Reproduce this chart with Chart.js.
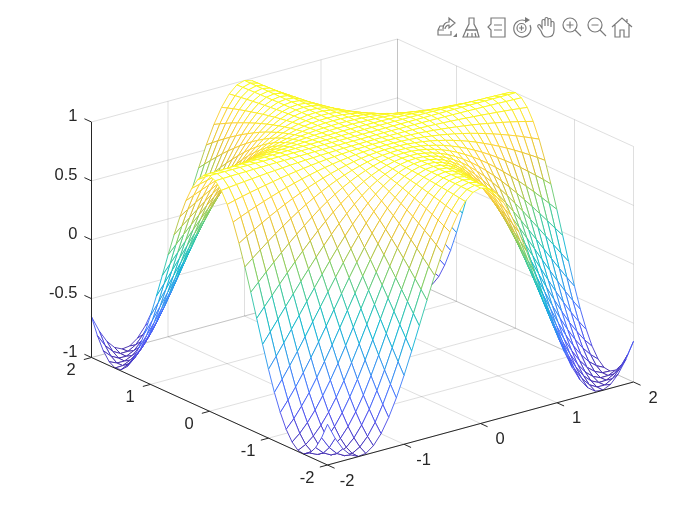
<!DOCTYPE html>
<html>
<head>
<meta charset="utf-8">
<style>
  html, body { margin: 0; padding: 0; background: #fff; }
  #wrap { position: relative; width: 700px; height: 525px; overflow: hidden; }
  #tools { position: absolute; left: 0; top: 0; pointer-events: none; filter: blur(0.35px); }
  #tools * { fill: none; stroke: #7a7a7a; stroke-width: 1.2; }
  #tools .solid { fill: #7a7a7a; stroke: none; }
</style>
<script src="https://cdn.jsdelivr.net/npm/chart.js@4/dist/chart.umd.js"></script>
</head>
<body>
<div id="wrap">
  <canvas id="chart" width="700" height="525"></canvas>
  <svg id="tools" width="700" height="525">
    <g transform="translate(437,17)">
      <path d="M1 13l2-4h4M1 13v5h13v-4M1 13h6"/>
      <path d="M6 12C6 7 9 5 12 5V1l6 5-6 5V8C10 8 8 10 8 12"/>
      <path class="solid" d="M16 20h4v-4z"/>
    </g>
    <g transform="translate(463,17)">
      <path d="M6 1h5v6l3 6H3l3-6z"/>
      <path d="M3 13h11l2 7H0z"/>
      <path d="M5 16l-1 4M9 16v4M12 16l1 4"/>
    </g>
    <g transform="translate(487,17)">
      <path d="M4 1h14v19H4v-7l-3-3 3-3z"/>
      <path d="M7 8h8M7 13h8"/>
    </g>
    <g transform="translate(512,17)">
      <path d="M13 3.500A8.500 8.500 0 1 0 18 8"/>
      <circle cx="9.500" cy="11" r="4.500"/>
      <path d="M9.500 8.500v5M7 11h5"/>
      <path class="solid" d="M13 0l5 3-5 3z"/>
    </g>
    <g transform="translate(537,17)">
      <path d="M4 14L1 10c-1-2 1-3 2-2l2 3V4c0-2 3-2 3 0v5V2c0-2 3-2 3 0v7V3c0-2 3-2 3 0v7V6c0-2 3-2 3 0v7c0 4-2 7-6 7H9c-2 0-4-3-5-6z"/>
    </g>
    <g transform="translate(562,17)">
      <circle cx="8" cy="8" r="7"/>
      <path d="M13 13l6 6M8 4.500v7M4.500 8h7"/>
    </g>
    <g transform="translate(587,17)">
      <circle cx="8" cy="8" r="7"/>
      <path d="M13 13l6 6M4.500 8h7"/>
    </g>
    <g transform="translate(612,17)">
      <path d="M0 10L10 1l10 9M3 8v12h5v-7h4v7h5V8M15 2v4"/>
    </g>
  </svg>
</div>
<script>
// axis ticks
const xTicks = [-2, -1, 0, 1, 2];
const yTicks = [-2, -1, 0, 1, 2];
const zTicks = [-1, -0.5, 0, 0.5, 1];

// mesh coordinates, 41 lines each way
const meshX = [-2, -1.9, -1.8, -1.7, -1.6, -1.5, -1.4, -1.3, -1.2, -1.1, -1, -0.9, -0.8, -0.7, -0.6, -0.5, -0.4, -0.3, -0.2, -0.1, 0, 0.1, 0.2, 0.3, 0.4, 0.5, 0.6, 0.7, 0.8, 0.9, 1, 1.1, 1.2, 1.3, 1.4, 1.5, 1.6, 1.7, 1.8, 1.9, 2];
const meshY = [-2, -1.9, -1.8, -1.7, -1.6, -1.5, -1.4, -1.3, -1.2, -1.1, -1, -0.9, -0.8, -0.7, -0.6, -0.5, -0.4, -0.3, -0.2, -0.1, 0, 0.1, 0.2, 0.3, 0.4, 0.5, 0.6, 0.7, 0.8, 0.9, 1, 1.1, 1.2, 1.3, 1.4, 1.5, 1.6, 1.7, 1.8, 1.9, 2];

// heights for |x|, |y| = 0, 0.1 ... 2 (surface looks the same in all four quadrants)
const zQuadrant = [
  [1, 1, 1, 1, 1, 1, 1, 1, 1, 1, 1, 1, 1, 1, 1, 1, 1, 1, 1, 1, 1],
  [1, 1, 1, 1, .999, .999, .998, .998, .997, .996, .995, .994, .993, .992, .99, .989, .987, .986, .984, .982, .98],
  [1, 1, .999, .998, .997, .995, .993, .99, .987, .984, .98, .976, .971, .966, .961, .955, .949, .943, .936, .929, .921],
  [1, 1, .998, .996, .993, .989, .984, .978, .971, .964, .955, .946, .936, .925, .913, .9, .887, .873, .858, .842, .825],
  [1, .999, .997, .993, .987, .98, .971, .961, .949, .936, .921, .905, .887, .868, .847, .825, .802, .778, .752, .725, .697],
  [1, .999, .995, .989, .98, .969, .955, .939, .921, .9, .878, .853, .825, .796, .765, .732, .697, .66, .622, .582, .54],
  [1, .998, .993, .984, .971, .955, .936, .913, .887, .858, .825, .79, .752, .711, .667, .622, .574, .523, .471, .418, .362],
  [1, .998, .99, .978, .961, .939, .913, .882, .847, .808, .765, .718, .667, .613, .557, .498, .436, .372, .306, .238, .17],
  [1, .997, .987, .971, .949, .921, .887, .847, .802, .752, .697, .637, .574, .506, .436, .362, .287, .209, .13, .051, -.029],
  [1, .996, .984, .964, .936, .9, .858, .808, .752, .69, .622, .549, .471, .39, .306, .219, .13, .041, -.049, -.139, -.227],
  [1, .995, .98, .955, .921, .878, .825, .765, .697, .622, .54, .454, .362, .267, .17, .071, -.029, -.129, -.227, -.323, -.416],
  [1, .994, .976, .946, .905, .853, .79, .718, .637, .549, .454, .353, .248, .14, .031, -.079, -.188, -.295, -.398, -.496, -.589],
  [1, .993, .971, .936, .887, .825, .752, .667, .574, .471, .362, .248, .13, .011, -.109, -.227, -.342, -.452, -.556, -.65, -.737],
  [1, .992, .966, .925, .868, .796, .711, .613, .506, .39, .267, .14, .011, -.119, -.247, -.37, -.488, -.599, -.696, -.784, -.857],
  [1, .99, .961, .913, .847, .765, .667, .557, .436, .306, .17, .031, -.109, -.247, -.38, -.505, -.62, -.724, -.813, -.886, -.942],
  [1, .989, .955, .9, .825, .732, .622, .498, .362, .219, .071, -.079, -.227, -.37, -.505, -.628, -.737, -.83, -.904, -.958, -.99],
  [1, .987, .949, .887, .802, .697, .574, .436, .287, .13, -.029, -.188, -.342, -.488, -.62, -.737, -.836, -.913, -.966, -.995, -.998],
  [1, .986, .943, .873, .778, .66, .523, .372, .209, .041, -.129, -.295, -.452, -.599, -.724, -.83, -.913, -.968, -.997, -.996, -.967],
  [1, .984, .936, .858, .752, .622, .471, .306, .13, -.049, -.227, -.398, -.556, -.696, -.813, -.904, -.966, -.997, -.995, -.96, -.897],
  [1, .982, .929, .842, .725, .582, .418, .238, .051, -.139, -.323, -.496, -.65, -.784, -.886, -.958, -.995, -.996, -.96, -.892, -.791],
  [1, .98, .921, .825, .697, .54, .362, .17, -.029, -.227, -.416, -.589, -.737, -.857, -.942, -.99, -.998, -.967, -.897, -.791, -.654]
];

// parula, low to high
const colorStops = ['#3e26a8', '#4747eb', '#3e6fff', '#2796eb', '#08b5d0', '#31c69f', '#81cc59', '#dcbd29', '#fccf30', '#f9fb15'];

const AXIS_COLOR = '#262626';
const GRID_COLOR = 'rgba(38,38,38,0.15)';
const MESH_WIDTH = 0.9;

// fixed view, read from the corners of the box
function project(x, y, z) {
  return {
    x: 362.5 + 76.5 * x - 59 * y,
    y: 252 - 20.75 * x - 26.875 * y - 117.75 * z
  };
}

function zAt(i, j) {
  return zQuadrant[Math.abs(i - 20)][Math.abs(j - 20)];
}

function hexToRgb(h) {
  return [1, 3, 5].map(k => parseInt(h.slice(k, k + 2), 16));
}

function meshColor(z) {
  const t = Math.min(1, Math.max(0, (z + 1) / 2)) * (colorStops.length - 1);
  const k = Math.min(colorStops.length - 2, Math.floor(t));
  const a = hexToRgb(colorStops[k]);
  const b = hexToRgb(colorStops[k + 1]);
  const c = a.map((v, n) => Math.round(v + (b[n] - v) * (t - k)));
  return 'rgb(' + c.join(',') + ')';
}

function lineSet(points, color, width) {
  return {
    data: points.map(p => project(p[0], p[1], p[2])),
    showLine: true,
    pointRadius: 0,
    borderColor: color,
    borderWidth: width,
    fill: false,
    tension: 0
  };
}

function quadSet(i, j) {
  const corners = [[i, j], [i + 1, j], [i + 1, j + 1], [i, j + 1], [i, j]];
  const zs = corners.map(c => zAt(c[0], c[1]));
  return {
    data: corners.map((c, n) => project(meshX[c[0]], meshY[c[1]], zs[n])),
    showLine: true,
    pointRadius: 0,
    borderWidth: MESH_WIDTH,
    fill: false,
    maskFill: '#ffffff',
    tension: 0,
    segment: {
      borderColor: ctx => meshColor((zs[ctx.p0DataIndex] + zs[ctx.p1DataIndex]) / 2)
    }
  };
}

// chart.js paints the last dataset first, so front quads go first
const datasets = [];

// axis lines and tick marks on top of everything
datasets.push(lineSet([[-2, 2, -1], [-2, 2, 1]], AXIS_COLOR, 1));
datasets.push(lineSet([[-2, -2, -1], [2, -2, -1]], AXIS_COLOR, 1));
datasets.push(lineSet([[-2, -2, -1], [-2, 2, -1]], AXIS_COLOR, 1));
xTicks.forEach(t => datasets.push(lineSet([[t, -2, -1], [t, -2.12, -1]], AXIS_COLOR, 1)));
yTicks.forEach(t => datasets.push(lineSet([[-2, t, -1], [-2.1, t, -1]], AXIS_COLOR, 1)));
zTicks.forEach(t => datasets.push(lineSet([[-2, 2, t], [-2, 2.12, t]], AXIS_COLOR, 1)));

for (let i = 0; i < meshX.length - 1; i++) {
  for (let j = 0; j < meshY.length - 1; j++) {
    datasets.push(quadSet(i, j));
  }
}

// grid on the floor and the two back walls
xTicks.forEach(t => {
  datasets.push(lineSet([[t, -2, -1], [t, 2, -1]], GRID_COLOR, 1));
  datasets.push(lineSet([[t, 2, -1], [t, 2, 1]], GRID_COLOR, 1));
});
yTicks.forEach(t => {
  datasets.push(lineSet([[-2, t, -1], [2, t, -1]], GRID_COLOR, 1));
  datasets.push(lineSet([[2, t, -1], [2, t, 1]], GRID_COLOR, 1));
});
zTicks.forEach(t => {
  datasets.push(lineSet([[-2, 2, t], [2, 2, t]], GRID_COLOR, 1));
  datasets.push(lineSet([[2, -2, t], [2, 2, t]], GRID_COLOR, 1));
});

// white inside of each mesh cell, so cells in front hide what is behind
const maskQuads = {
  id: 'maskQuads',
  beforeDatasetDraw(chart, args) {
    const ds = chart.data.datasets[args.index];
    if (!ds.maskFill) return;
    const ctx = chart.ctx;
    ctx.save();
    ctx.beginPath();
    args.meta.data.forEach((p, n) => {
      if (n === 0) ctx.moveTo(p.x, p.y);
      else ctx.lineTo(p.x, p.y);
    });
    ctx.closePath();
    ctx.fillStyle = ds.maskFill;
    ctx.fill();
    ctx.restore();
  }
};

const tickLabels = {
  id: 'tickLabels',
  afterDraw(chart) {
    const ctx = chart.ctx;
    const sx = chart.scales.x;
    const sy = chart.scales.y;
    const put = (text, p, dx, dy, align) => {
      ctx.textAlign = align;
      ctx.fillText(text, sx.getPixelForValue(p.x) + dx, sy.getPixelForValue(p.y) + dy);
    };
    ctx.save();
    ctx.font = '16.5px "Liberation Sans"';
    ctx.fillStyle = AXIS_COLOR;
    ctx.textBaseline = 'middle';
    zTicks.forEach(t => put(String(t), project(-2, 2, t), -14, -5.5, 'right'));
    xTicks.forEach(t => put(String(t), project(t, -2, -1), 19.5, 16, 'center'));
    yTicks.forEach(t => put(String(t), project(-2, t, -1), -20.5, 13, 'center'));
    ctx.restore();
  }
};

new Chart(document.getElementById('chart'), {
  type: 'scatter',
  data: { datasets: datasets },
  options: {
    responsive: false,
    animation: false,
    parsing: false,
    normalized: true,
    events: [],
    layout: { padding: 0 },
    plugins: { legend: { display: false }, tooltip: { enabled: false } },
    scales: {
      x: { type: 'linear', display: false, min: 0, max: 700 },
      y: { type: 'linear', display: false, min: 0, max: 525, reverse: true }
    }
  },
  plugins: [maskQuads, tickLabels]
});
</script>
</body>
</html>
